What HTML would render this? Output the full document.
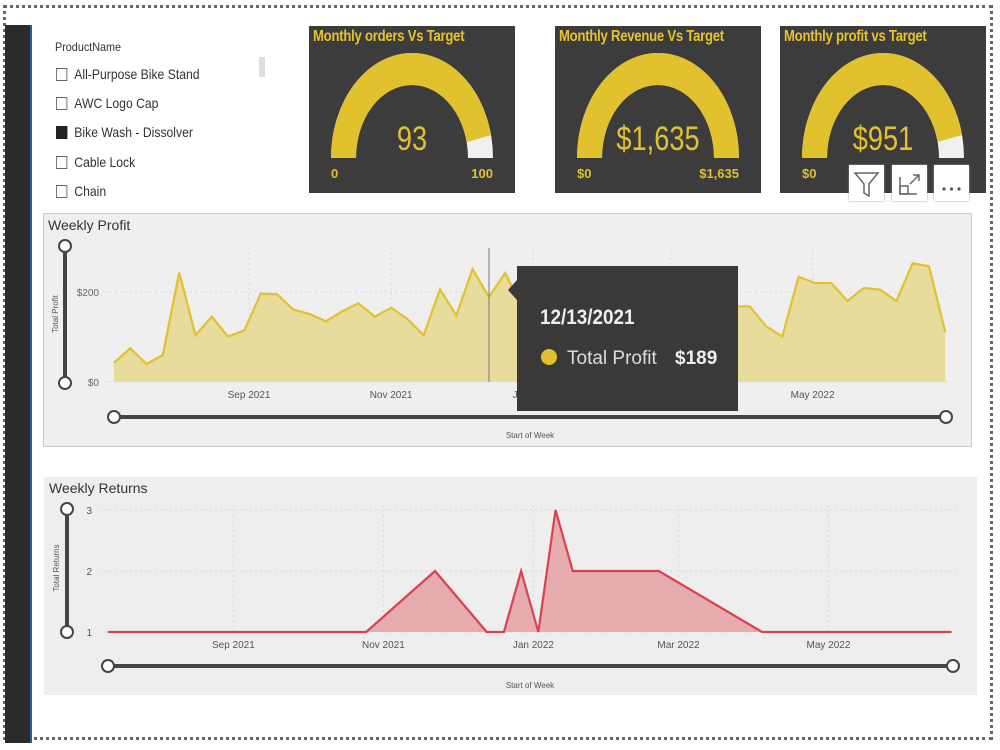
<!DOCTYPE html>
<html><head><meta charset="utf-8">
<style>
body{margin:0;width:1000px;height:750px;background:#fff;position:relative;overflow:hidden;font-family:"Liberation Sans",sans-serif;}
.abs{position:absolute;}
.frame{left:3px;top:5px;width:990px;height:735px;border:3px dotted #666;box-sizing:border-box;}
.leftbar{left:5px;top:25px;width:25px;height:718px;background:#2b2b2b;border-right:2px solid #2a5d9b;}
.slicer-title{left:55px;top:40px;font-size:12px;color:#333;transform:scaleX(0.9);transform-origin:left;}
.item{left:56px;font-size:14px;color:#333;display:flex;align-items:center;transform:scaleX(0.87);transform-origin:left;}
.box{width:11px;height:11px;border:1px solid #666;margin-right:8px;background:#fff;}
.card{background:#3c3c3c;top:26px;width:206px;height:167px;}
.ct{position:absolute;left:4px;top:2px;color:#e8c42c;font-weight:bold;font-size:16px;letter-spacing:-0.3px;white-space:nowrap;transform:scaleX(0.82);transform-origin:left;font-family:"Liberation Sans Narrow","Liberation Sans",sans-serif;}
.icb{background:#fff;width:35px;height:36px;top:165px;box-shadow:0 0 2px #999;}
</style></head><body>
<div class="abs frame"></div>
<div class="abs leftbar"></div>

<div class="abs slicer-title">ProductName</div>
<div class="abs" style="left:259px;top:57px;width:6px;height:20px;background:#ddd"></div>
<div class="abs item" style="top:66px"><span class="box"></span>All-Purpose Bike Stand</div>
<div class="abs item" style="top:95px"><span class="box"></span>AWC Logo Cap</div>
<div class="abs item" style="top:124px"><span class="box" style="background:#222;border-color:#222"></span>Bike Wash - Dissolver</div>
<div class="abs item" style="top:154px"><span class="box"></span>Cable Lock</div>
<div class="abs item" style="top:183px"><span class="box"></span>Chain</div>

<div class="abs card" style="left:309px"><div class="ct">Monthly orders Vs Target</div></div>
<div class="abs card" style="left:555px"><div class="ct">Monthly Revenue Vs Target</div></div>
<div class="abs card" style="left:780px"><div class="ct">Monthly profit vs Target</div></div>
<svg class="abs" style="left:0;top:0" width="1000" height="200" id="gauges"></svg>

<div class="abs icb" style="left:849px"><svg width="35" height="36"><path d="M6 8 H29 L20 19 V31 L15 28 V19 Z" fill="none" stroke="#666" stroke-width="1.5"/></svg></div>
<div class="abs icb" style="left:892px"><svg width="35" height="36"><path d="M8 12 V29 H25" fill="none" stroke="#666" stroke-width="1.5"/><rect x="8" y="21" width="8" height="8" fill="none" stroke="#666" stroke-width="1.5"/><path d="M18 19 L27 10 M21 10 H27 V16" fill="none" stroke="#666" stroke-width="1.5"/></svg></div>
<div class="abs icb" style="left:934px"><svg width="35" height="36"><circle cx="10" cy="24" r="1.6" fill="#555"/><circle cx="17.5" cy="24" r="1.6" fill="#555"/><circle cx="25" cy="24" r="1.6" fill="#555"/></svg></div>

<div class="abs" style="left:43px;top:213px;width:929px;height:234px;background:#efefef;border:1px solid #c8c8c8;box-sizing:border-box"></div>
<div class="abs" style="left:44px;top:477px;width:933px;height:218px;background:#eeeeee"></div>
<svg class="abs" style="left:0;top:0" width="1000" height="750" id="charts"></svg>

<script>
// ===== Gauge data =====
const gaugeValues=[93,1635,951];
const gaugeMax=[100,1635,1023];
const gaugeLabels=["93","$1,635","$951"];
const gaugeMinLabels=["0","$0","$0"];
const gaugeMaxLabels=["100","$1,635",""];
const gaugeCx=[412,658,883];

// ===== Weekly profit data =====
const profitStart="2021-07-05";
const profitValues=[43,75,40,60,243,104,145,101,115,196,195,161,151,135,157,175,145,165,140,104,206,148,251,189,242,169,190,230,200,180,160,170,200,185,150,130,150,165,168,168,124,101,234,220,220,180,209,205,180,264,257,110];
const profitTicks=["2021-09-01","2021-11-01","2022-01-01","2022-03-01","2022-05-01"];
const profitTickLabels=["Sep 2021","Nov 2021","Jan 2022","Mar 2022","May 2022"];
const profitYTicks=[0,200];
const profitYLabels=["$0","$200"];

// ===== Weekly returns data =====
const returnDates=["2021-07-12","2021-10-25","2021-11-22","2021-12-13","2021-12-20","2021-12-27","2022-01-03","2022-01-10","2022-01-17","2022-02-21","2022-04-04","2022-06-20"];
const returnValues=[1,1,2,1,1,2,1,3,2,2,1,1];
const returnTicks=["2021-09-01","2021-11-01","2022-01-01","2022-03-01","2022-05-01"];
const returnTickLabels=["Sep 2021","Nov 2021","Jan 2022","Mar 2022","May 2022"];
const returnYTicks=[1,2,3];

const NS="http://www.w3.org/2000/svg";
function mk(parent,tag,attrs,text){const e=document.createElementNS(NS,tag);for(const k in attrs)e.setAttribute(k,attrs[k]);if(text!=null)e.textContent=text;parent.appendChild(e);return e;}
const day=86400000;
const D=s=>new Date(s+"T00:00:00Z").getTime();

// ---- Gauges ----
const g=document.getElementById('gauges');
function arcPath(cx,cy,rx,ry,irx,iry,a0,a1){
  const p=(r1,r2,a)=>[cx-r1*Math.cos(a),cy-r2*Math.sin(a)];
  const [x0,y0]=p(rx,ry,a0),[x1,y1]=p(rx,ry,a1),[x2,y2]=p(irx,iry,a1),[x3,y3]=p(irx,iry,a0);
  return `M${x0} ${y0} A${rx} ${ry} 0 0 1 ${x1} ${y1} L${x2} ${y2} A${irx} ${iry} 0 0 0 ${x3} ${y3} Z`;
}
gaugeValues.forEach((v,i)=>{
  const cx=gaugeCx[i],cy=158,frac=Math.min(1,v/gaugeMax[i]);
  const bg=mk(g,'path',{d:arcPath(cx,cy,81,105,56,73,0,Math.PI),fill:'#f0f0f0'});
  
  
  const fg=mk(g,'path',{d:arcPath(cx,cy,81,105,56,73,0,Math.PI*frac),fill:'#e2c12e'});
  
  
  const t=mk(g,'text',{x:cx,y:150,'text-anchor':'middle','font-size':34,fill:'#e2c12e','font-family':'Liberation Sans Narrow, Liberation Sans, sans-serif','transform':`translate(${cx},0) scale(0.8,1) translate(${-cx},0)`},gaugeLabels[i]);
  
  
  const mn=mk(g,'text',{x:cx-81,y:178,'font-size':13,'font-weight':'bold',fill:'#e2c12e'},gaugeMinLabels[i]);
  
  
  const mx=mk(g,'text',{x:cx+81,y:178,'text-anchor':'end','font-size':13,'font-weight':'bold',fill:'#e2c12e'},gaugeMaxLabels[i]);
  
  
});

// ---- Charts ----
const c=document.getElementById('charts');
function slider(x1,y1,x2,y2,name){
  const l=mk(c,'line',{x1,y1,x2,y2,stroke:'#444','stroke-width':4});
  
  
  [[x1,y1],[x2,y2]].forEach(([x,y])=>{const h=mk(c,'circle',{cx:x,cy:y,r:6,fill:'#fff',stroke:'#444','stroke-width':2});
    
    });
}
// Profit chart
const pT0=D(profitStart),pX0=114,pPxDay=16.3/7,pY0=382,pPx=90/200;
const px=t=>pX0+(t-pT0)/day*pPxDay, py=v=>pY0-v*pPx;
let t1=mk(c,'text',{x:48,y:230,'font-size':14,fill:'#333'},'Weekly Profit');


profitYTicks.forEach((v,i)=>{
  const gl=mk(c,'line',{x1:105,x2:950,y1:py(v),y2:py(v),stroke:'#d8d8d8','stroke-dasharray':'2 3'});
  
  
  const tl=mk(c,'text',{x:99,y:py(v)+4,'text-anchor':'end','font-size':10,fill:'#666'},profitYLabels[i]);
  
  
});
profitTicks.forEach((d,i)=>{
  const x=px(D(d));
  const gl=mk(c,'line',{x1:x,x2:x,y1:248,y2:382,stroke:'#d8d8d8','stroke-dasharray':'2 3'});
  
  
  const tl=mk(c,'text',{x,y:398,'text-anchor':'middle','font-size':10,fill:'#555'},profitTickLabels[i]);
  
  
});
const ppts=profitValues.map((v,i)=>[px(pT0+i*7*day),py(v)]);
const area=mk(c,'path',{d:'M'+ppts[0][0]+' '+pY0+' L'+ppts.map(p=>p.join(' ')).join(' L')+' L'+ppts[ppts.length-1][0]+' '+pY0+' Z',fill:'#e8dc9c'});


const line=mk(c,'polyline',{points:ppts.map(p=>p.join(',')).join(' '),fill:'none',stroke:'#e2c12e','stroke-width':2.2});


const hover=mk(c,'line',{x1:489,x2:489,y1:248,y2:382,stroke:'#777','stroke-width':1});


let ya=mk(c,'text',{x:0,y:0,'font-size':8,fill:'#555','text-anchor':'middle',transform:'translate(58,314) rotate(-90)'},'Total Profit');


let xa=mk(c,'text',{x:530,y:438,'font-size':8,fill:'#555','text-anchor':'middle'},'Start of Week');


slider(65,246,65,383,'profit-y-slider');
slider(114,417,946,417,'profit-x-slider');
// tooltip
const tg=mk(c,'g',{});


mk(tg,'rect',{x:517,y:266,width:221,height:145,fill:'#393937'});
mk(tg,'path',{d:'M517 280 L508 290 L517 300 Z',fill:'#393937'});
mk(tg,'text',{x:540,y:324,'font-size':21,'font-weight':'bold',fill:'#eee',transform:'translate(540,0) scale(0.9,1) translate(-540,0)'},'12/13/2021');
mk(tg,'circle',{cx:549,cy:357,r:8,fill:'#e2c12e'});
mk(tg,'text',{x:567,y:364,'font-size':19,fill:'#ddd'},'Total Profit');
mk(tg,'text',{x:675,y:364,'font-size':19,'font-weight':'bold',fill:'#eee'},'$189');

// Returns chart
const rT0=D("2021-07-12"),rX0=108,rPxDay=150/61,rY1=632,rPx=61;
const rx=t=>rX0+(t-rT0)/day*rPxDay, ry=v=>rY1-(v-1)*rPx;
let t2=mk(c,'text',{x:49,y:493,'font-size':14,fill:'#333'},'Weekly Returns');


returnYTicks.forEach(v=>{
  const gl=mk(c,'line',{x1:100,x2:958,y1:ry(v),y2:ry(v),stroke:'#d8d8d8','stroke-dasharray':'2 3'});
  
  
  const tl=mk(c,'text',{x:92,y:ry(v)+4,'text-anchor':'end','font-size':10,fill:'#555'},String(v));
  
  
});
returnTicks.forEach((d,i)=>{
  const x=rx(D(d));
  const gl=mk(c,'line',{x1:x,x2:x,y1:505,y2:632,stroke:'#d8d8d8','stroke-dasharray':'2 3'});
  
  
  const tl=mk(c,'text',{x,y:648,'text-anchor':'middle','font-size':10,fill:'#555'},returnTickLabels[i]);
  
  
});
const rpts=returnDates.map((d,i)=>[rx(D(d)),ry(returnValues[i])]);
const rarea=mk(c,'path',{d:'M'+rpts[0][0]+' '+rY1+' L'+rpts.map(p=>p.join(' ')).join(' L')+' L'+rpts[rpts.length-1][0]+' '+rY1+' Z',fill:'#e6abaf'});


const rline=mk(c,'polyline',{points:rpts.map(p=>p.join(',')).join(' '),fill:'none',stroke:'#d9424e','stroke-width':2.2});


let ya2=mk(c,'text',{x:0,y:0,'font-size':8,fill:'#555','text-anchor':'middle',transform:'translate(59,568) rotate(-90)'},'Total Returns');


let xa2=mk(c,'text',{x:530,y:688,'font-size':8,fill:'#555','text-anchor':'middle'},'Start of Week');


slider(67,509,67,632,'returns-y-slider');
slider(108,666,953,666,'returns-x-slider');
</script>
</body></html>
